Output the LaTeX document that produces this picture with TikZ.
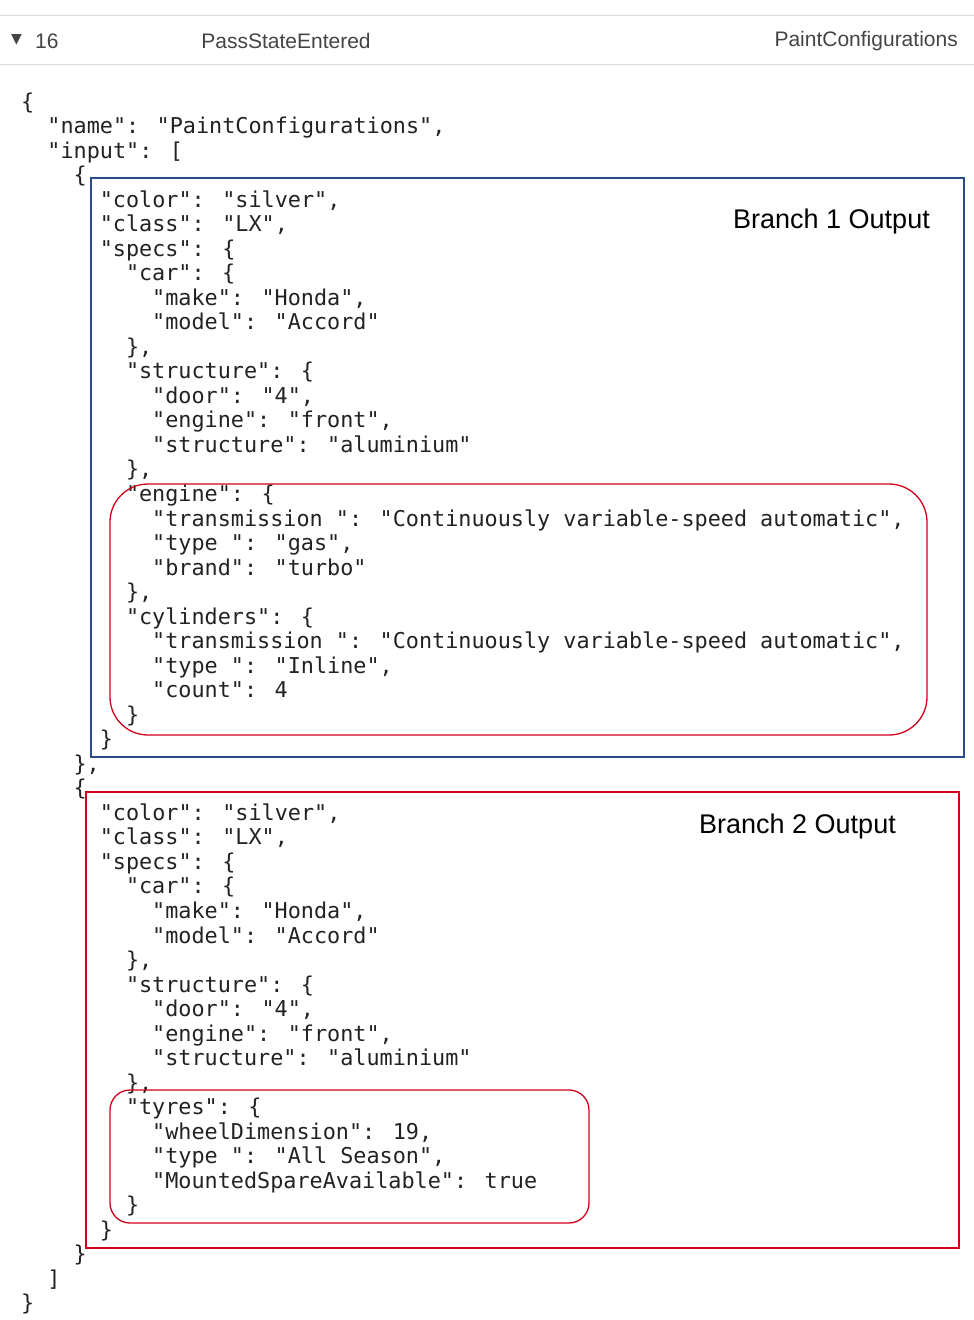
\documentclass[tikz,border=0pt]{standalone}
\usepackage{fontspec}
\setmainfont{Liberation Sans}
\newfontfamily\monof{DejaVu Sans Mono}
\newfontfamily\djv{DejaVu Sans}
\definecolor{codec}{HTML}{222222}
\definecolor{hdr}{HTML}{444444}
\definecolor{bbox}{HTML}{2B4A8A}
\definecolor{rbox}{HTML}{D0021B}
\tikzset{
 code/.style={anchor=base west,inner sep=0pt,font=\monof\fontsize{21.8}{24}\selectfont,text=codec},
 hd/.style={inner sep=0pt,font=\fontsize{21}{24}\selectfont,text=hdr},
 lbl/.style={inner sep=0pt,font=\fontsize{27}{30}\selectfont,text=black},
 blue box/.style={draw=bbox,line width=1.3pt},
 red box/.style={draw=rbox,line width=1.3pt},
}
\newcommand\cl[3]{\node[code] (l#1) at ({21+13.1*#2},{109+24.53*#1}) {#3};}
\begin{document}
\begin{tikzpicture}[x=1pt,y=-1pt]
\useasboundingbox (0,0) rectangle (974,1320);
\draw[gray!30,line width=1pt] (0,15) -- (974,15);
\draw[gray!30,line width=1pt] (0,64) -- (974,64);
\node[hd,anchor=west] (arrow) at (11,40) {{\djv\fontsize{14}{16}\selectfont ▼}};
\node[hd,anchor=west] (num) at (35,41) {16};
\node[hd] (state) at (286,41) {PassStateEntered};
\node[hd,anchor=east] (pname) at (958,41) {PaintConfigurations};
\cl{0}{0}{\{}
\cl{1}{2}{"name": "PaintConfigurations",}
\cl{2}{2}{"input": [}
\cl{3}{4}{\{}
\cl{4}{6}{"color": "silver",}
\cl{5}{6}{"class": "LX",}
\cl{6}{6}{"specs": \{}
\cl{7}{8}{"car": \{}
\cl{8}{10}{"make": "Honda",}
\cl{9}{10}{"model": "Accord"}
\cl{10}{8}{\},}
\cl{11}{8}{"structure": \{}
\cl{12}{10}{"door": "4",}
\cl{13}{10}{"engine": "front",}
\cl{14}{10}{"structure": "aluminium"}
\cl{15}{8}{\},}
\cl{16}{8}{"engine": \{}
\cl{17}{10}{"transmission ": "Continuously variable-speed automatic",}
\cl{18}{10}{"type ": "gas",}
\cl{19}{10}{"brand": "turbo"}
\cl{20}{8}{\},}
\cl{21}{8}{"cylinders": \{}
\cl{22}{10}{"transmission ": "Continuously variable-speed automatic",}
\cl{23}{10}{"type ": "Inline",}
\cl{24}{10}{"count": 4}
\cl{25}{8}{\}}
\cl{26}{6}{\}}
\cl{27}{4}{\},}
\cl{28}{4}{\{}
\cl{29}{6}{"color": "silver",}
\cl{30}{6}{"class": "LX",}
\cl{31}{6}{"specs": \{}
\cl{32}{8}{"car": \{}
\cl{33}{10}{"make": "Honda",}
\cl{34}{10}{"model": "Accord"}
\cl{35}{8}{\},}
\cl{36}{8}{"structure": \{}
\cl{37}{10}{"door": "4",}
\cl{38}{10}{"engine": "front",}
\cl{39}{10}{"structure": "aluminium"}
\cl{40}{8}{\},}
\cl{41}{8}{"tyres": \{}
\cl{42}{10}{"wheelDimension": 19,}
\cl{43}{10}{"type ": "All Season",}
\cl{44}{10}{"MountedSpareAvailable": true}
\cl{45}{8}{\}}
\cl{46}{6}{\}}
\cl{47}{4}{\}}
\cl{48}{2}{]}
\cl{49}{0}{\}}
\draw[blue box] (91,178) rectangle (964,757);
\draw[red box] (86,792) rectangle (959,1248);
\draw[red box,rounded corners=38pt] (110,484) rectangle (927,735);
\draw[red box,rounded corners=20pt] (110,1090) rectangle (589,1223);
\node[lbl,anchor=east] (b1) at (930,222) {Branch 1 Output};
\node[lbl,anchor=east] (b2) at (896,827) {Branch 2 Output};
\end{tikzpicture}
\end{document}
